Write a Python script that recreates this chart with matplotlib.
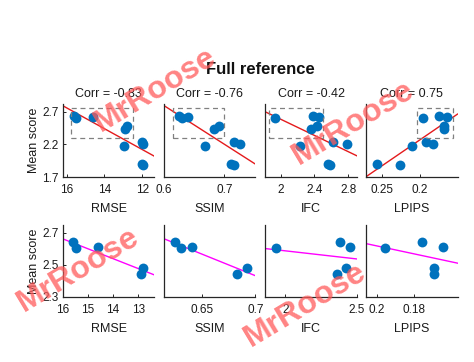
import numpy as np
import matplotlib
matplotlib.use("Agg")
import matplotlib.pyplot as plt
from matplotlib.patches import Rectangle
from matplotlib.ticker import FormatStrFormatter

plt.rcParams['font.family'] = ['Liberation Sans', 'DejaVu Sans']

# mean score of the 10 items
score = [2.642, 2.613, 2.604, 2.482, 2.443, 2.177, 2.230, 2.203, 1.898, 1.884]

metrics = ['RMSE', 'SSIM', 'IFC', 'LPIPS']
rmse = [15.6, 14.6, 15.5, 12.82, 12.9, 12.96, 12.0, 11.95, 12.0, 11.95]
ssim = [0.625, 0.6405, 0.630, 0.692, 0.683, 0.668, 0.7155, 0.7255, 0.7117, 0.7155]
ifc = [2.38, 2.45, 1.937, 2.427, 2.36, 2.224, 2.615, 2.79, 2.556, 2.588]
lpips = [0.1756, 0.1639, 0.1955, 0.1691, 0.1691, 0.2104, 0.1922, 0.1830, 0.2565, 0.2256]
values = [rmse, ssim, ifc, lpips]
corr_text = ['Corr = -0.83', 'Corr = -0.76', 'Corr = -0.42', 'Corr = 0.75']

# top row limits / ticks
top_xlim = [(16.2, 11.35), (0.6, 0.7517), (1.82, 2.90), (0.2705, 0.1508)]
top_xticks = [[16, 14, 12], [0.6, 0.7], [2, 2.4, 2.8], [0.25, 0.2]]
top_ylim = (1.7, 2.82)
top_yticks = [1.7, 2.2, 2.7]

# zoomed box (bottom row) limits / ticks
box_x = [(15.79, 12.48), (0.6145, 0.70), (1.859, 2.506), (0.2043, 0.1573)]
box_y = (2.305, 2.755)
bot_xlim = [(16.0, 12.35), (0.6146, 0.70), (1.86, 2.5), (0.2058, 0.1562)]
bot_xticks = [[16, 15, 14, 13], [0.65, 0.7], [2, 2.5], [0.2, 0.18]]
bot_ylim = (2.3, 2.75)
bot_yticks = [2.3, 2.5, 2.7]

blue = '#0072BD'
axcol = '#262626'

fig = plt.figure(figsize=(4.74, 3.62), dpi=100)
lefts = [0.1329, 0.3460, 0.5597, 0.7722]
w = 0.193


def style(ax, xlim, xticks, ylim, yticks):
    for s in ['top', 'right']:
        ax.spines[s].set_visible(False)
    for s in ['left', 'bottom']:
        ax.spines[s].set_color(axcol)
        ax.spines[s].set_linewidth(0.9)
    ax.set_xlim(*xlim)
    ax.set_ylim(*ylim)
    ax.set_xticks(xticks)
    ax.set_yticks(yticks)
    ax.xaxis.set_major_formatter(FormatStrFormatter('%g'))
    ax.yaxis.set_major_formatter(FormatStrFormatter('%g'))
    ax.tick_params(direction='in', length=2.5, width=0.7, color=axcol,
                   labelsize=8.5, labelcolor='#1a1a1a', pad=3)
    ax.tick_params(axis='x', pad=5)


score = np.array(score)
for i in range(4):
    x = np.array(values[i])
    # full data
    ax = fig.add_axes([lefts[i], 0.511, w, 0.2017])
    style(ax, top_xlim[i], top_xticks[i], top_ylim, top_yticks)
    p = np.polyfit(x, score, 1)
    xx = np.array(top_xlim[i])
    ax.plot(xx, np.polyval(p, xx), color='#e41a1c', lw=1.0, zorder=2)
    ax.scatter(x, score, s=50, color=blue, zorder=3, linewidths=0)
    bx, by = box_x[i], box_y
    ax.add_patch(Rectangle((bx[0], by[0]), bx[1] - bx[0], by[1] - by[0],
                           fill=False, ls=(0, (4, 3)), lw=0.9,
                           edgecolor='#808080', zorder=4))
    ax.set_title(corr_text[i], fontsize=9, pad=5, color='#1a1a1a')
    ax.set_xlabel(metrics[i], fontsize=9, labelpad=5, color='#1a1a1a')
    if i == 0:
        ax.set_ylabel('Mean score', fontsize=9, labelpad=2, color='#1a1a1a')

    # boxed subset
    sel = score > 2.3
    ax2 = fig.add_axes([lefts[i], 0.1796, w, 0.199])
    style(ax2, bot_xlim[i], bot_xticks[i], bot_ylim, bot_yticks)
    if i > 0:
        ax2.set_yticklabels([])
        ax2.tick_params(axis='y', length=0)
    p2 = np.polyfit(x[sel], score[sel], 1)
    xx2 = np.array(bot_xlim[i])
    ax2.plot(xx2, np.polyval(p2, xx2), color='#ff00ff', lw=1.0, zorder=2)
    ax2.scatter(x[sel], score[sel], s=50, color=blue, zorder=3, linewidths=0)
    ax2.set_xlabel(metrics[i], fontsize=9, labelpad=5, color='#1a1a1a')
    if i == 0:
        ax2.set_ylabel('Mean score', fontsize=9, labelpad=2, color='#1a1a1a')
    if i > 0:
        ax.set_yticklabels([])
        ax.tick_params(axis='y', length=0)

fig.text(0.549, 0.807, 'Full reference', fontsize=12, fontweight='bold',
         ha='center', va='center', color='#111111')

# watermarks
for (cx, cy) in [(155, 90), (353, 123), (78, 270), (305, 305)]:
    fig.text(cx / 474, 1 - cy / 362, 'MrRoose', fontsize=23, fontweight='bold',
             color='#ff5a5a', alpha=0.75, rotation=31, ha='center', va='center',
             zorder=10)

fig.savefig('out.png', dpi=100)
